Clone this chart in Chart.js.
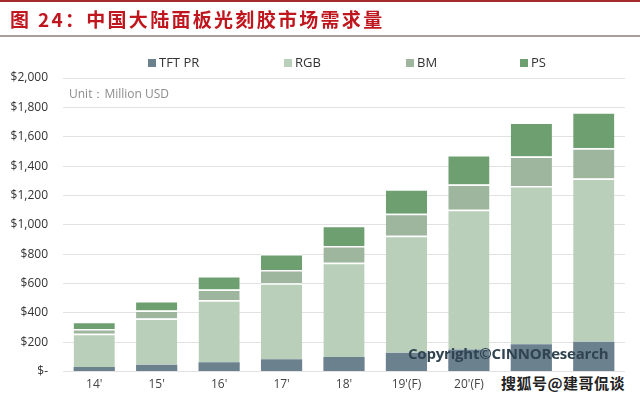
<!DOCTYPE html>
<html>
<head>
<meta charset="utf-8">
<script src="https://cdn.jsdelivr.net/npm/chart.js@4.4.1/dist/chart.umd.min.js"></script>
<style>
  body { margin: 0; background: #fff; }
  #wrap { position: relative; width: 640px; height: 403px; overflow: hidden; background: #fff; }
  #title {
    position: absolute; left: 0; top: 0; width: 640px; height: 33px;
    border-top: 2px solid #a52a2e; border-bottom: 2px solid #ab9e9e;
    font-family: "Noto Sans CJK SC", sans-serif; font-weight: bold; font-size: 19px;
    color: #c0161e; line-height: 33px; padding-left: 10px; box-sizing: content-box;
    letter-spacing: 2.3px; white-space: nowrap;
  }
  #legend { position: absolute; top: 53px; left: 0; width: 640px; height: 18px;
    font-family: "Open Sans", sans-serif; font-size: 13px; color: #333; }
  #legend span { position: absolute; top: 0; line-height: 18px; white-space: nowrap; }
  #legend i { display: inline-block; width: 8px; height: 8px; margin-right: 3px; vertical-align: 0px; }
  #unit { position: absolute; left: 69px; top: 85px; font-family: "Open Sans", sans-serif;
    font-size: 12px; color: #8e8e8e; }
  #copy { position: absolute; left: 408px; top: 343px; font-family: "Open Sans", sans-serif;
    font-weight: bold; font-size: 15px; color: #2f4350; letter-spacing: -0.2px; white-space: nowrap; }
  #mark { position: absolute; left: 498px; top: 372px; background: #fff; padding: 0 3px;
    font-family: "Noto Sans CJK SC", sans-serif; font-weight: bold; font-size: 15px; color: #222;
    line-height: 22px; white-space: nowrap; letter-spacing: 0.5px; }
  canvas { position: absolute; left: 0; top: 0; }
</style>
</head>
<body>
<div id="wrap">
  <canvas id="chart" width="640" height="403"></canvas>
  <div id="title">图 24：中国大陆面板光刻胶市场需求量</div>
  <div id="legend"></div>
  <div id="unit">Unit：Million USD</div>
  <div id="copy">Copyright©CINNOResearch</div>
  <div id="mark">搜狐号@建哥侃谈</div>
</div>
<script>
// years, last three are forecasts
const categories = ["14'", "15'", "16'", "17'", "18'", "19'(F)", "20'(F)", "21'(F)", "22'(F)"]
// demand by type, million USD
const tftPr = [32, 46, 64, 84, 100, 128, 150, 187, 203]
const rgb = [226, 315, 422, 517, 642, 797, 953, 1078, 1112]
const bm = [32, 55, 74, 91, 114, 150, 171, 201, 206]
const ps = [50, 65, 91, 109, 137, 167, 201, 231, 246]
const seriesNames = ["TFT PR", "RGB", "BM", "PS"]
const seriesColors = ["#6b818e", "#b9cfb9", "#9db69d", "#6e9f71"]
const legendLeft = [148, 284, 406, 520]

const seriesData = [tftPr, rgb, bm, ps]

const datasets = seriesNames.map((name, i) => ({
  label: name,
  data: seriesData[i],
  backgroundColor: seriesColors[i],
  borderColor: "#ffffff",
  borderWidth: { top: i === 0 ? 0 : 1.5, left: 0, right: 0, bottom: 0 },
  borderSkipped: false,
  categoryPercentage: 1,
  barPercentage: 0.66,
}))

// html legend, spaced like the original
const legendEl = document.getElementById("legend")
seriesNames.forEach((name, i) => {
  const s = document.createElement("span")
  s.style.left = legendLeft[i] + "px"
  s.innerHTML = `<i style="background:${seriesColors[i]}"></i>${name}`
  legendEl.appendChild(s)
})

const tickFont = { family: "'Open Sans', sans-serif", size: 12 }

new Chart(document.getElementById("chart"), {
  type: "bar",
  data: { labels: categories, datasets },
  options: {
    responsive: false,
    animation: false,
    layout: { padding: { top: 78, left: 4, right: 15, bottom: 5 } },
    plugins: {
      legend: { display: false },
      tooltip: { enabled: false },
    },
    scales: {
      x: {
        stacked: true,
        grid: { display: false, drawTicks: false },
        border: { display: false },
        ticks: { color: "#444", font: tickFont, padding: 6, maxRotation: 0, autoSkip: false },
      },
      y: {
        stacked: true,
        min: 0,
        max: 2000,
        afterFit: (scale) => { scale.width = 59 },
        grid: { color: "#e2e2e2", lineWidth: 1, drawTicks: false },
        border: { display: false },
        ticks: {
          stepSize: 200,
          color: "#333",
          font: tickFont,
          padding: 15,
          callback: (v) => v === 0 ? "$-" : "$" + v.toLocaleString("en-US"),
        },
      },
    },
  },
})
</script>
</body>
</html>
